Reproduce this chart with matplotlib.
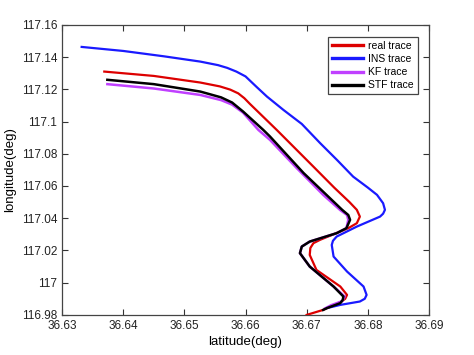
import numpy as np
import matplotlib
matplotlib.use('Agg')
import matplotlib.pyplot as plt
from matplotlib.ticker import FuncFormatter

plt.rcParams['font.family'] = ['Liberation Sans', 'DejaVu Sans']

# real trace
real_lat = [36.6369, 36.6450, 36.6526, 36.6558, 36.6575, 36.6588, 36.6598, 36.6607, 36.6651, 36.6711,
            36.6745, 36.6770, 36.6782, 36.6787, 36.6782, 36.6768, 36.6722, 36.6711, 36.6706,
            36.6705, 36.6716, 36.6755, 36.6766, 36.6763, 36.6757, 36.6727, 36.6700]
real_lon = [117.1310, 117.1283, 117.1242, 117.1218, 117.1198, 117.1175, 117.1145, 117.1110, 117.0948, 117.0720,
            117.0590, 117.0500, 117.0452, 117.0410, 117.0369, 117.0338, 117.0266, 117.0245, 117.0215,
            117.0172, 117.0079, 116.9976, 116.9924, 116.9900, 116.9883, 116.9831, 116.9800]

# INS trace
ins_lat = [36.6332, 36.6400, 36.6466, 36.6526, 36.6555, 36.6570, 36.6585, 36.6600, 36.6618,
           36.6635, 36.6662, 36.6692, 36.6722, 36.6750, 36.6776, 36.6800, 36.6815, 36.6825,
           36.6828, 36.6825, 36.6820, 36.6782, 36.6749, 36.6743, 36.6741, 36.6744, 36.6766,
           36.6793, 36.6798, 36.6795, 36.6787, 36.6755, 36.6733]
ins_lon = [117.1463, 117.1438, 117.1405, 117.1372, 117.1350, 117.1333, 117.1310, 117.1280, 117.1215,
           117.1155, 117.1072, 117.0985, 117.0866, 117.0760, 117.0658, 117.0590, 117.0545, 117.0493,
           117.0452, 117.0428, 117.0410, 117.0348, 117.0286, 117.0260, 117.0234, 117.0162, 117.0069,
           116.9976, 116.9924, 116.9900, 116.9883, 116.9862, 116.9842]

# KF trace
kf_lat = [36.6374, 36.6450, 36.6526, 36.6560, 36.6578, 36.6596, 36.6621, 36.6640, 36.6684, 36.6727,
          36.6755, 36.6766, 36.6768, 36.6765, 36.6749, 36.6705, 36.6692, 36.6689, 36.6705,
          36.6744, 36.6762, 36.6758, 36.6740, 36.6730]
kf_lon = [117.1232, 117.1205, 117.1165, 117.1133, 117.1105, 117.1055, 117.0948, 117.0886, 117.0710, 117.0545,
          117.0450, 117.0420, 117.0390, 117.0338, 117.0307, 117.0255, 117.0224, 117.0183, 117.0100,
          116.9976, 116.9914, 116.9885, 116.9860, 116.9840]

# STF trace
stf_lat = [36.6374, 36.6450, 36.6526, 36.6560, 36.6578, 36.6596, 36.6629, 36.6640, 36.6695, 36.6758,
           36.6768, 36.6771, 36.6765, 36.6749, 36.6705, 36.6692, 36.6689, 36.6705, 36.6744,
           36.6760, 36.6759, 36.6755, 36.6733, 36.6727]
stf_lon = [117.1259, 117.1232, 117.1186, 117.1150, 117.1118, 117.1062, 117.0948, 117.0907, 117.0680, 117.0452,
           117.0420, 117.0390, 117.0338, 117.0307, 117.0255, 117.0224, 117.0183, 117.0100, 116.9976,
           116.9914, 116.9893, 116.9873, 116.9842, 116.9831]

xticks = [36.63, 36.64, 36.65, 36.66, 36.67, 36.68, 36.69]
yticks = [116.98, 117.0, 117.02, 117.04, 117.06, 117.08, 117.1, 117.12, 117.14, 117.16]

fig = plt.figure(figsize=(4.74, 3.55), dpi=100)
ax = fig.add_axes([0.131, 0.113, 0.774, 0.817])

ax.plot(ins_lat, ins_lon, color='#1a1aff', lw=1.6, label='INS trace', zorder=2)
ax.plot(real_lat, real_lon, color='#dd0000', lw=1.6, label='real trace', zorder=3)
ax.plot(kf_lat, kf_lon, color='#c040ff', lw=1.8, label='KF trace', zorder=4)
ax.plot(stf_lat, stf_lon, color='black', lw=1.8, label='STF trace', zorder=5)

ax.set_xlim(36.63, 36.69)
ax.set_ylim(116.98, 117.16)
ax.set_xticks(xticks)
ax.set_yticks(yticks)
fmt = FuncFormatter(lambda v, p: '%g' % round(v, 4))
ax.xaxis.set_major_formatter(fmt)
ax.yaxis.set_major_formatter(fmt)
ax.tick_params(direction='in', top=True, right=True, labelsize=8.5, colors='#333333',
               length=4, width=0.8, labelcolor='#222222')
for s in ax.spines.values():
    s.set_color('#444444')
    s.set_linewidth(0.9)

ax.set_xlabel('latitude(deg)', fontsize=9.5, labelpad=3)
ax.set_ylabel('longitude(deg)', fontsize=9.5, labelpad=4)

h, l = ax.get_legend_handles_labels()
order = [1, 0, 2, 3]
leg = ax.legend([h[i] for i in order], [l[i] for i in order], loc='upper right',
                bbox_to_anchor=(0.97, 0.959), borderaxespad=0, fontsize=7.5, fancybox=False,
                framealpha=1, edgecolor='#444444', handlelength=3.0, handletextpad=0.5,
                borderpad=0.4, labelspacing=0.3)
leg.get_frame().set_linewidth(0.9)
for line in leg.get_lines():
    line.set_linewidth(2.4)

fig.savefig('out.png', dpi=100)
